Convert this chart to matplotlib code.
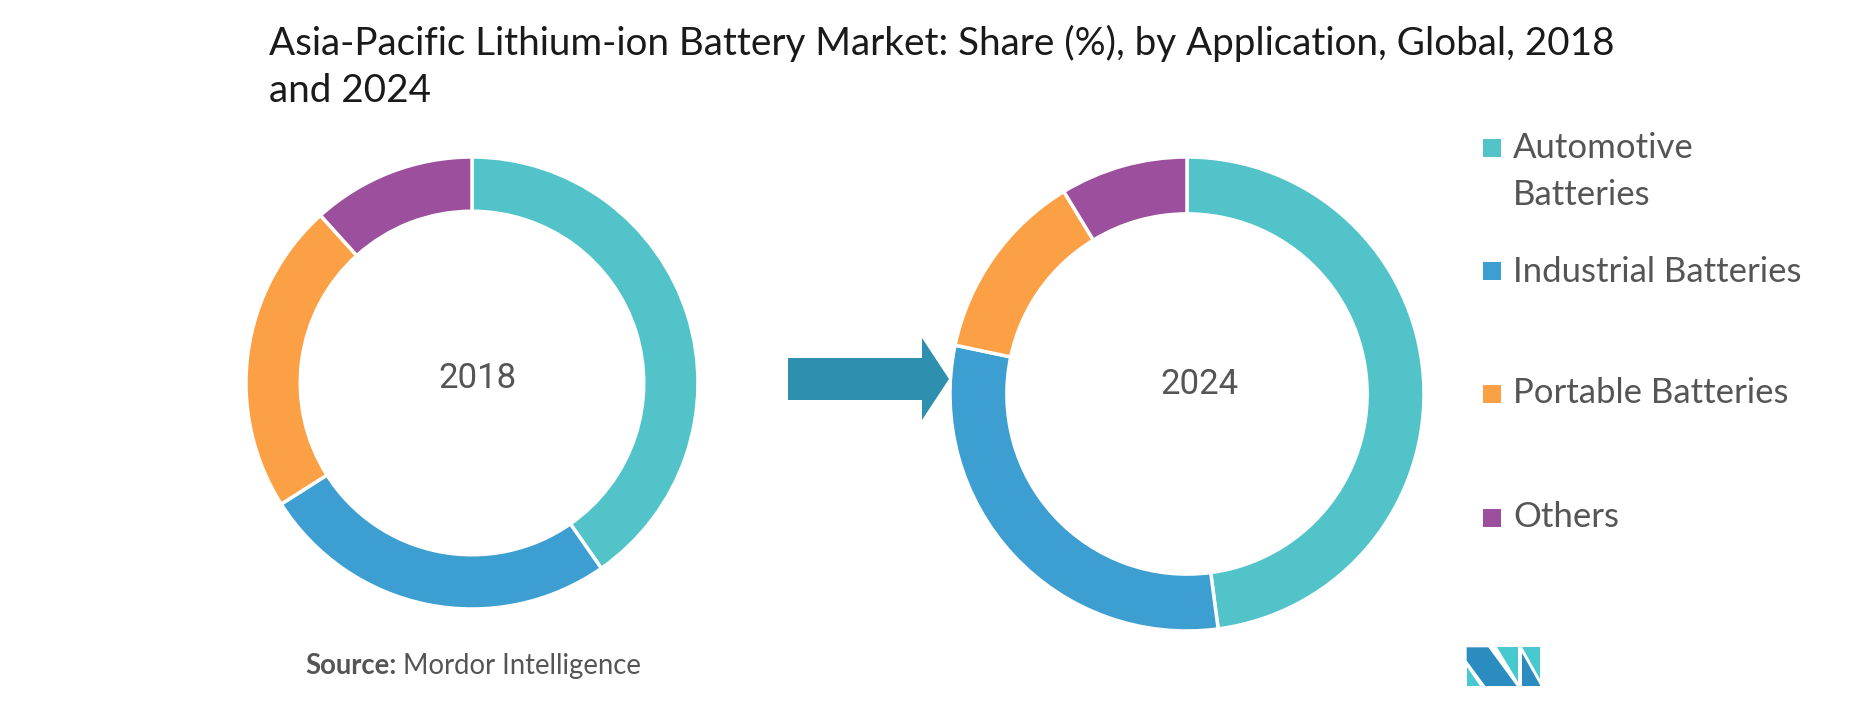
import matplotlib
matplotlib.use("Agg")
import matplotlib.pyplot as plt
from matplotlib.patches import Rectangle, Polygon

categories = ["Automotive\nBatteries", "Industrial Batteries", "Portable Batteries", "Others"]
share_2018 = [40.3, 25.7, 22.3, 11.7]
share_2024 = [47.9, 30.4, 13.0, 8.7]
years = ["2018", "2024"]
colors = ["#52C4C9", "#3D9FD1", "#FCA045", "#9C4F9D"]

W, H = 1852, 705
fig = plt.figure(figsize=(W / 100, H / 100), dpi=100)
fig.patch.set_facecolor("white")

def fx(x):
    return x / W

def fy(y):
    return 1 - y / H

def donut(cx, cy, r, values, label, lx, ly):
    ax = fig.add_axes([fx(cx - r), fy(cy + r), 2 * r / W, 2 * r / H])
    ax.pie(values, colors=colors, startangle=90, counterclock=False, radius=1,
           wedgeprops=dict(width=0.24, edgecolor="white", linewidth=2.5))
    ax.set_xlim(-1, 1)
    ax.set_ylim(-1, 1)
    ax.set_aspect("equal")
    ax.axis("off")
    fig.text(fx(lx), fy(ly), label, ha="center", va="center", fontsize=25,
             family="Roboto", color="#555555")

donut(472, 383, 226, share_2018, years[0], 477, 378)
donut(1187, 394, 237, share_2024, years[1], 1199, 384)

# arrow
arrow = Polygon([[fx(788), fy(358)], [fx(922), fy(358)], [fx(922), fy(338)],
                 [fx(949), fy(379)], [fx(922), fy(420)], [fx(922), fy(400)],
                 [fx(788), fy(400)]], closed=True, transform=fig.transFigure,
                facecolor="#2F8FAF", edgecolor="none")
fig.patches.append(arrow)

# title
fig.text(fx(269), fy(55), "Asia-Pacific Lithium-ion Battery Market: Share (%), by Application, Global, 2018",
         ha="left", va="baseline", fontsize=27.8, family="Lato", color="#1a1a1a")
fig.text(fx(269), fy(102), "and 2024", ha="left", va="baseline", fontsize=27.8,
         family="Lato", color="#1a1a1a")

# legend
sq_centers = [148, 271, 394, 518]
baselines = [158, 282, 403, 527]
for cat, col, yc, yb in zip(categories, colors, sq_centers, baselines):
    fig.patches.append(Rectangle((fx(1483), fy(yc + 9)), 18 / W, 18 / H,
                                 transform=fig.transFigure, facecolor=col, edgecolor="none"))
    for i, line in enumerate(cat.split("\n")):
        fig.text(fx(1513), fy(yb + i * 47), line, ha="left", va="baseline",
                 fontsize=25, family="Lato", color="#555555")

# source
t = fig.text(fx(305), fy(674), "Source:", ha="left", va="baseline", fontsize=19.8,
             family="Lato", weight="bold", color="#555555")
fig.canvas.draw()
bb = t.get_window_extent()
fig.text((bb.x1 + 7) / W, fy(674), "Mordor Intelligence", ha="left", va="baseline",
         fontsize=19.8, family="Lato", color="#555555")

# logo
def lp(pts, col):
    fig.patches.append(Polygon([[fx(1420 + x / 3), fy(620 + y / 3)] for x, y in pts],
                               closed=True, transform=fig.transFigure,
                               facecolor=col, edgecolor="none"))

dark, teal = "#2B8CC0", "#48C9D0"
lp([(140, 82), (205, 82), (290, 198), (196, 198), (140, 122)], dark)
lp([(140, 140), (140, 198), (180, 198)], teal)
lp([(232, 82), (295, 82), (295, 186)], teal)
lp([(305, 82), (360, 82), (360, 178)], teal)
lp([(305, 100), (305, 198), (360, 198), (360, 194)], dark)

fig.savefig("out.png", dpi=100, facecolor="white")
